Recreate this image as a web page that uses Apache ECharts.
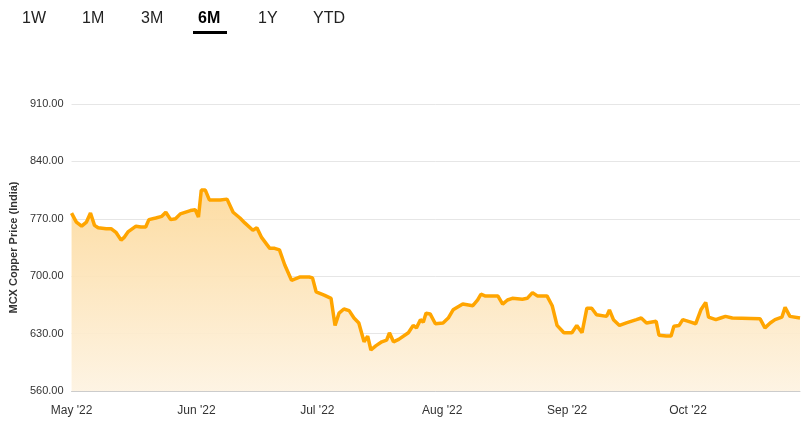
<!DOCTYPE html>
<html><head><meta charset="utf-8">
<script src="https://cdn.jsdelivr.net/npm/echarts@6/dist/echarts.min.js"></script>
<style>
body{margin:0;background:#fff;font-family:Arial,"Liberation Sans",sans-serif}
#tabs{position:absolute;left:0;top:0;height:40px;width:812px}
#tabs span{position:absolute;top:9px;font-size:16px;color:#222}
#tabs .on{font-weight:bold;color:#000}
#tabs .bar{position:absolute;left:193px;top:31px;width:34px;height:3px;background:#000}
#c{position:absolute;left:0;top:0;width:812px;height:441px}
</style></head><body>
<div id="c"></div>
<div id="tabs">
<span style="left:22px">1W</span><span style="left:82px">1M</span><span style="left:141px">3M</span><span class="on" style="left:198px">6M</span><span style="left:258px">1Y</span><span style="left:313px">YTD</span><div class="bar"></div>
</div>
<script>
const dayOffsets=[0,1.2,2.5,3.7,4.7,5.7,6.6,8.6,9.8,11.1,12.3,13,14,16,17.2,18.4,19.2,20.9,22.4,23.4,24.6,25.8,27,29.5,30.7,31.5,32.2,33.2,34.2,36.9,38.6,40.1,41.8,43,45,46,47.2,49.2,50.4,51.6,52.9,54.6,56.6,59,59.8,60.7,62.7,64.4,65.4,66.4,67.6,68.9,70.1,71.3,72.6,73.5,74.3,75.5,77,78.2,78.9,79.9,81.2,83.6,84.8,85.6,86.6,87.3,88,89,90.3,92.2,93.5,94.7,97.1,99.6,100.8,101.6,102.6,105.8,107,108.2,109.4,111.9,113.1,114.4,115.6,118,119.3,120.5,122.2,124.2,125.4,126.7,127.9,129.1,130.3,132.8,133.5,134.5,136,137.7,140.2,141.4,142.7,145.1,145.8,147.6,148.8,149.5,150.8,151.7,153.7,154.9,156.2,157.4,158.1,159.9,161.1,162.3,164,170.9,172.1,173.4,174.6,176.3,177.1,178.3,180.8];
const prices=[777,766,761,766,777,762,759,758,758,753,744,747,754,761,760,760,769,771,773,778,769,770,776,780,781,772,805,805,793,793,794,778,771,765,756,759,747,734,734,732,714,695,699,699,698,681,677,673,640,655,660,658,649,643,620,627,610,615,620,622,631,620,623,631,640,637,647,644,655,654,642,643,649,659,666,664,671,678,676,676,666,671,673,672,673,680,676,676,664,640,631,631,640,631,661,661,653,651,659,647,640,643,647,649,643,645,628,627,627,639,640,647,644,642,659,668,650,647,649,651,649,648,637,643,647,650,662,651,649,650];
const yTicks={min:560,max:910,step:70};
const monthNames=['Jan','Feb','Mar','Apr','May','Jun','Jul','Aug','Sep','Oct','Nov','Dec'];
const base=Date.UTC(2022,4,1);
const DAY=86400000;
const data=dayOffsets.map((d,i)=>[base+d*DAY,prices[i]]);
const ch=echarts.init(document.getElementById('c'));
ch.setOption({
animation:false,
grid:{left:65,right:12,top:104,bottom:50},
xAxis:{type:'time',min:base,max:base+180.8*DAY,
 axisLine:{lineStyle:{color:'#ccc'}},axisTick:{show:false},splitLine:{show:false},
 axisLabel:{color:'#333',fontSize:12,margin:14,showMinLabel:true,
  formatter:v=>{const d=new Date(v);return d.getUTCDate()===1?monthNames[d.getUTCMonth()]+" '"+String(d.getUTCFullYear()).slice(2):'';}}},
yAxis:{type:'value',min:yTicks.min,max:yTicks.max,interval:yTicks.step,
 name:'MCX Copper Price (India)',nameLocation:'middle',nameGap:50,nameRotate:90,
 nameTextStyle:{fontWeight:'bold',fontSize:11,color:'#333'},
 axisLine:{show:false},axisTick:{show:false},
 axisLabel:{color:'#333',fontSize:11,formatter:v=>v.toFixed(2)},
 splitLine:{lineStyle:{color:'#e6e6e6'}}},
series:[{type:'line',data:data,symbol:'none',
 lineStyle:{color:'#ffa500',width:3.5},
 areaStyle:{color:new echarts.graphic.LinearGradient(0,0,0,1,[{offset:0,color:'#fdd999'},{offset:1,color:'#fef3e1'}]),opacity:0.9}}]
});
</script></body></html>
